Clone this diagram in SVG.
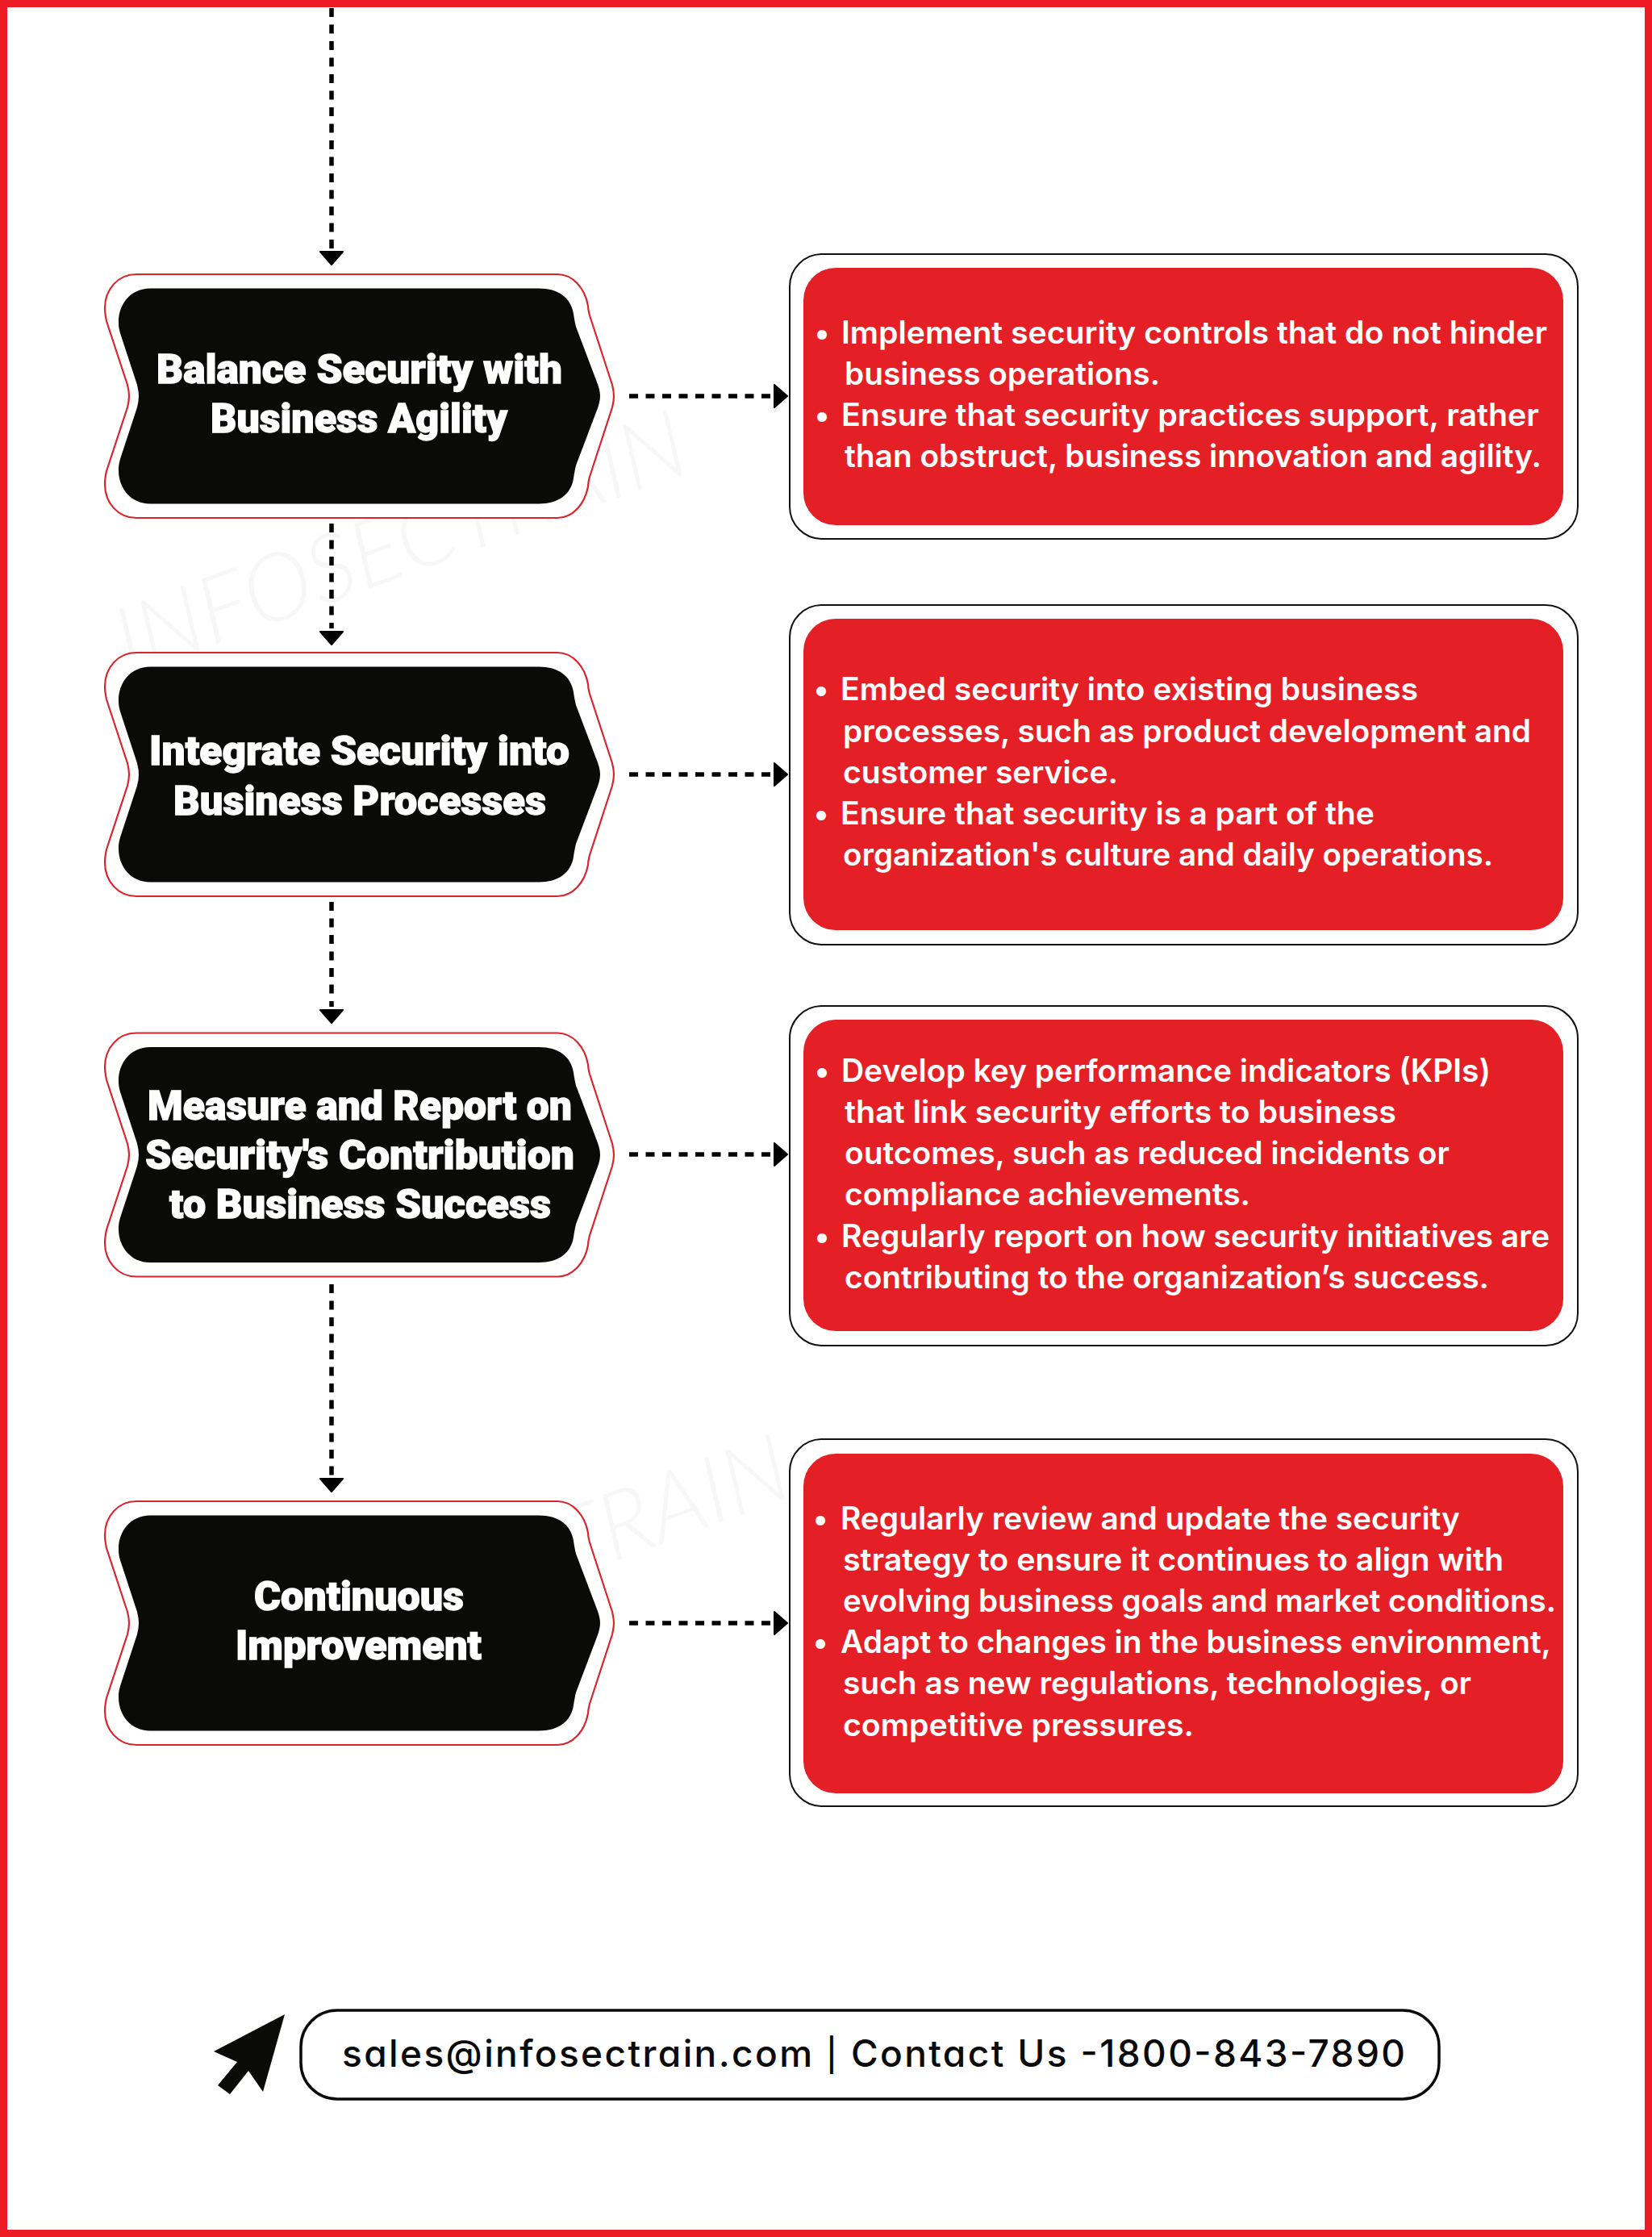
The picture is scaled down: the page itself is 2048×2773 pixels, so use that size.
<svg xmlns="http://www.w3.org/2000/svg" width="2048" height="2773" viewBox="0 0 2048 2773">
<style>
.head{font-family:Roboto,"Liberation Sans",sans-serif;font-weight:900;font-size:50px;fill:#fff;stroke:#fff;stroke-width:1.3}
.body{font-family:Inter,"Liberation Sans",sans-serif;font-weight:600;font-size:39px;fill:#fff}
.bul{font-family:Inter,"Liberation Sans",sans-serif;font-weight:600;font-size:38px;fill:#fff;text-anchor:middle}
.wm{font-family:Lato,"Liberation Sans",sans-serif;font-weight:300;font-style:italic;font-size:116px;fill:#f7f7f7}
.outer{fill:#fff;stroke:#d9262e;stroke-width:2.2}
.inner{fill:#0a0a08}
.card{fill:#fff;stroke:#111;stroke-width:2}
.panel{fill:#e51f26}
.dash{fill:none;stroke:#000;stroke-width:5.5;stroke-dasharray:11 9.5}
.head-arrow{fill:#000;stroke:#000;stroke-width:2;stroke-linejoin:round}
.foot{font-family:Inter,"Liberation Sans",sans-serif;font-weight:500;font-size:46px;fill:#0a0a0a;font-feature-settings:"cv11"}
.pipe{font-size:40px}
</style>
<defs>
<path id="outerShape" d="M169,-151 H691 C710,-151 725,-134 729,-112 C729,-107 730,-104 731,-100 L759,-14 Q761,-6 761,0 Q761,6 759,14 L731,100 C730,104 729,107 729,112 C725,134 710,151 691,151 H169 C146,151 130,132 130,109 C130,103 131,98 132,93 L158,14 Q160,6 160,0 Q160,-6 158,-14 L132,-93 C131,-98 130,-103 130,-109 C130,-132 146,-151 169,-151 Z"/>
<path id="innerShape" d="M186,-133.5 H668 C692,-133.5 708,-122 711,-102 C712,-95 713,-90 714,-86 L739,-20 Q744,-8 744,0 Q744,8 739,20 L714,86 C713,90 712,95 711,102 C708,122 692,133.5 668,133.5 H186 C162,133.5 147,114 147,92 C147,85 148,82 149,78 L170,14 Q172,6 172,0 Q172,-6 170,-14 L149,-78 C148,-82 147,-85 147,-92 C147,-114 162,-133.5 186,-133.5 Z"/>
</defs>
<rect width="2048" height="2773" fill="#fff"/>
<rect x="4.5" y="4.5" width="2039" height="2764" fill="none" stroke="#ed1c24" stroke-width="9"/>
<g id="watermark">
<text class="wm" transform="translate(160,838) rotate(-20)" textLength="745" lengthAdjust="spacingAndGlyphs">INFOSECTRAIN</text>
<text class="wm" transform="translate(287,2108) rotate(-20)" textLength="745" lengthAdjust="spacingAndGlyphs">INFOSECTRAIN</text>
</g>
<g id="connectors">
<path class="dash" d="M411,10 V309"/>
<path class="head-arrow" d="M397,312 H425 L411,328 Z"/>
<path class="dash" d="M411,649 V779"/>
<path class="head-arrow" d="M397,783 H425 L411,799 Z"/>
<path class="dash" d="M411,1118 V1248"/>
<path class="head-arrow" d="M397,1252 H425 L411,1268 Z"/>
<path class="dash" d="M411,1592 V1829"/>
<path class="head-arrow" d="M397,1833 H425 L411,1849 Z"/>
<path class="dash" d="M780,491 H956"/>
<path class="head-arrow" d="M960,477 V505 L976,491 Z"/>
<path class="dash" d="M780,960 H956"/>
<path class="head-arrow" d="M960,946 V974 L976,960 Z"/>
<path class="dash" d="M780,1431 H956"/>
<path class="head-arrow" d="M960,1417 V1445 L976,1431 Z"/>
<path class="dash" d="M780,2012 H956"/>
<path class="head-arrow" d="M960,1998 V2026 L976,2012 Z"/>
</g>
<g id="node-balance">
<use href="#outerShape" class="outer" transform="translate(0,491)"/>
<use href="#innerShape" class="inner" transform="translate(0,491)"/>
<text class="head" x="194" y="475" textLength="503" lengthAdjust="spacingAndGlyphs">Balance Security with</text>
<text class="head" x="261" y="536" textLength="368" lengthAdjust="spacingAndGlyphs">Business Agility</text>
</g>
<g id="node-integrate">
<use href="#outerShape" class="outer" transform="translate(0,960)"/>
<use href="#innerShape" class="inner" transform="translate(0,960)"/>
<text class="head" x="185" y="948" textLength="521" lengthAdjust="spacingAndGlyphs">Integrate Security into</text>
<text class="head" x="215" y="1010" textLength="462" lengthAdjust="spacingAndGlyphs">Business Processes</text>
</g>
<g id="node-measure">
<use href="#outerShape" class="outer" transform="translate(0,1431.5)"/>
<use href="#innerShape" class="inner" transform="translate(0,1431.5)"/>
<text class="head" x="183" y="1388" textLength="526" lengthAdjust="spacingAndGlyphs">Measure and Report on</text>
<text class="head" x="180" y="1449" textLength="532" lengthAdjust="spacingAndGlyphs">Security's Contribution</text>
<text class="head" x="210" y="1510" textLength="473" lengthAdjust="spacingAndGlyphs">to Business Success</text>
</g>
<g id="node-continuous">
<use href="#outerShape" class="outer" transform="translate(0,2012)"/>
<use href="#innerShape" class="inner" transform="translate(0,2012)"/>
<text class="head" x="315" y="1996" textLength="260" lengthAdjust="spacingAndGlyphs">Continuous</text>
<text class="head" x="292" y="2057" textLength="305" lengthAdjust="spacingAndGlyphs">Improvement</text>
</g>
<g id="card-balance">
<rect class="card" x="979" y="315" width="977" height="353" rx="40"/>
<rect class="panel" x="996" y="332" width="942" height="319" rx="40"/>
<text class="bul" x="1019" y="426">•</text>
<text class="body" x="1043" y="426" textLength="875" lengthAdjust="spacingAndGlyphs">Implement security controls that do not hinder</text>
<text class="body" x="1047" y="477" textLength="391" lengthAdjust="spacingAndGlyphs">business operations.</text>
<text class="bul" x="1019" y="528">•</text>
<text class="body" x="1043" y="528" textLength="865" lengthAdjust="spacingAndGlyphs">Ensure that security practices support, rather</text>
<text class="body" x="1047" y="579" textLength="864" lengthAdjust="spacingAndGlyphs">than obstruct, business innovation and agility.</text>
</g>
<g id="card-integrate">
<rect class="card" x="979" y="750" width="977" height="421" rx="40"/>
<rect class="panel" x="996" y="767" width="942" height="386" rx="40"/>
<text class="bul" x="1018" y="868">•</text>
<text class="body" x="1042" y="868" textLength="716" lengthAdjust="spacingAndGlyphs">Embed security into existing business</text>
<text class="body" x="1045" y="919.5" textLength="853" lengthAdjust="spacingAndGlyphs">processes, such as product development and</text>
<text class="body" x="1045" y="971" textLength="341" lengthAdjust="spacingAndGlyphs">customer service.</text>
<text class="bul" x="1018" y="1022">•</text>
<text class="body" x="1042" y="1022" textLength="662" lengthAdjust="spacingAndGlyphs">Ensure that security is a part of the</text>
<text class="body" x="1045" y="1073" textLength="806" lengthAdjust="spacingAndGlyphs">organization's culture and daily operations.</text>
</g>
<g id="card-measure">
<rect class="card" x="979" y="1247" width="977" height="421" rx="40"/>
<rect class="panel" x="996" y="1264" width="942" height="386" rx="40"/>
<text class="bul" x="1019" y="1341">•</text>
<text class="body" x="1043" y="1341" textLength="805" lengthAdjust="spacingAndGlyphs">Develop key performance indicators (KPIs)</text>
<text class="body" x="1047" y="1392" textLength="684" lengthAdjust="spacingAndGlyphs">that link security efforts to business</text>
<text class="body" x="1047" y="1443" textLength="750" lengthAdjust="spacingAndGlyphs">outcomes, such as reduced incidents or</text>
<text class="body" x="1047" y="1494" textLength="503" lengthAdjust="spacingAndGlyphs">compliance achievements.</text>
<text class="bul" x="1019" y="1546">•</text>
<text class="body" x="1043" y="1546" textLength="878" lengthAdjust="spacingAndGlyphs">Regularly report on how security initiatives are</text>
<text class="body" x="1047" y="1597" textLength="799" lengthAdjust="spacingAndGlyphs">contributing to the organization’s success.</text>
</g>
<g id="card-continuous">
<rect class="card" x="979" y="1784" width="977" height="455" rx="40"/>
<rect class="panel" x="996" y="1802" width="942" height="421" rx="40"/>
<text class="bul" x="1017" y="1896">•</text>
<text class="body" x="1042" y="1896" textLength="768" lengthAdjust="spacingAndGlyphs">Regularly review and update the security</text>
<text class="body" x="1045" y="1947" textLength="819" lengthAdjust="spacingAndGlyphs">strategy to ensure it continues to align with</text>
<text class="body" x="1045" y="1998" textLength="884" lengthAdjust="spacingAndGlyphs">evolving business goals and market conditions.</text>
<text class="bul" x="1017" y="2049">•</text>
<text class="body" x="1042" y="2049" textLength="881" lengthAdjust="spacingAndGlyphs">Adapt to changes in the business environment,</text>
<text class="body" x="1045" y="2100" textLength="779" lengthAdjust="spacingAndGlyphs">such as new regulations, technologies, or</text>
<text class="body" x="1045" y="2152" textLength="435" lengthAdjust="spacingAndGlyphs">competitive pressures.</text>
</g>
<g id="footer">
<path fill="#0a0a08" d="M353,2497 L265,2543 L294,2556 L270,2585 L285,2596 L308,2567 L326,2593 Z"/>
<rect x="373" y="2492" width="1411" height="110" rx="45" fill="#fff" stroke="#0a0a0a" stroke-width="3.5"/>
<text class="foot" x="424" y="2562" textLength="1318" lengthAdjust="spacing">sales@infosectrain.com <tspan class="pipe">|</tspan> Contact Us -1800-843-7890</text>
</g>
</svg>
